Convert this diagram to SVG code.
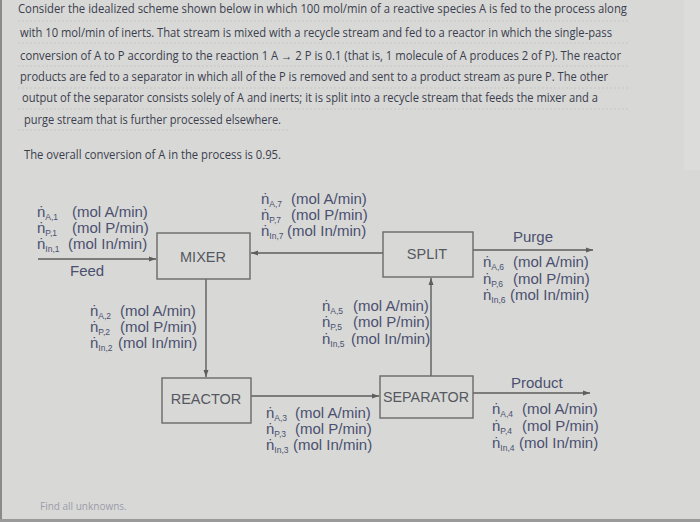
<svg xmlns="http://www.w3.org/2000/svg" width="700" height="522" viewBox="0 0 700 522">
<style>
.q{font-family:"Open Sans","Liberation Sans",sans-serif;font-size:12px;fill:#3a3e4e}
.rule{stroke:#c6c6c4;stroke-width:1;stroke-dasharray:2 2}
.lbl{font-family:"Liberation Sans",Arial,sans-serif;font-size:15px;fill:#4a5070}
.sub{font-size:8.5px}
.box{fill:none;stroke:#6a6a6a;stroke-width:1.4}
.bt{font-family:"Liberation Sans",Arial,sans-serif;font-size:14.5px;fill:#55585f;text-anchor:middle}
.ln{stroke:#5e5e5e;stroke-width:1.4;fill:none}
</style>
<defs>
<marker id="ah" markerWidth="8" markerHeight="6" refX="7" refY="3" orient="auto" markerUnits="userSpaceOnUse">
<path d="M0,0.5 L7,3 L0,5.5 Z" fill="#5e5e5e"/>
</marker>
</defs>
<rect width="700" height="522" fill="#d8d8d6"/>
<rect x="684" y="0" width="16" height="170" fill="#dcdcdb"/>
<rect x="0" y="0" width="2" height="522" fill="#8a8a8a"/>
<rect x="0" y="519" width="700" height="3" fill="#9a9a9a"/>

<g id="problem-text">
<line class="rule" x1="18" y1="21" x2="630" y2="21"/>
<line class="rule" x1="18" y1="43" x2="630" y2="43"/>
<line class="rule" x1="18" y1="66" x2="630" y2="66"/>
<line class="rule" x1="18" y1="88" x2="630" y2="88"/>
<line class="rule" x1="18" y1="109" x2="630" y2="109"/>
<line class="rule" x1="18" y1="130" x2="290" y2="130"/>
<text class="q" x="18" y="13" textLength="609" lengthAdjust="spacingAndGlyphs">Consider the idealized scheme shown below in which 100 mol/min of a reactive species A is fed to the process along</text>
<text class="q" x="20" y="37" textLength="592" lengthAdjust="spacingAndGlyphs">with 10 mol/min of inerts. That stream is mixed with a recycle stream and fed to a reactor in which the single-pass</text>
<text class="q" x="20" y="60" textLength="601" lengthAdjust="spacingAndGlyphs">conversion of A to P according to the reaction 1 A → 2 P is 0.1 (that is, 1 molecule of A produces 2 of P). The reactor</text>
<text class="q" x="20" y="81" textLength="588" lengthAdjust="spacingAndGlyphs">products are fed to a separator in which all of the P is removed and sent to a product stream as pure P. The other</text>
<text class="q" x="22" y="102" textLength="576" lengthAdjust="spacingAndGlyphs">output of the separator consists solely of A and inerts; it is split into a recycle stream that feeds the mixer and a</text>
<text class="q" x="24" y="124" textLength="257" lengthAdjust="spacingAndGlyphs">purge stream that is further processed elsewhere.</text>
<text class="q" x="24" y="159" textLength="257" lengthAdjust="spacingAndGlyphs">The overall conversion of A in the process is 0.95.</text>
</g>

<g id="connectors">
<line class="ln" x1="38" y1="259" x2="156" y2="259" marker-end="url(#ah)"/>
<line class="ln" x1="383" y1="253" x2="251" y2="253" marker-end="url(#ah)"/>
<line class="ln" x1="206" y1="279" x2="206" y2="377" marker-end="url(#ah)"/>
<line class="ln" x1="251" y1="396" x2="379" y2="396" marker-end="url(#ah)"/>
<line class="ln" x1="431" y1="376" x2="431" y2="278" marker-end="url(#ah)"/>
<line class="ln" x1="473" y1="250" x2="593" y2="250" marker-end="url(#ah)"/>
<line class="ln" x1="473" y1="393" x2="590" y2="393" marker-end="url(#ah)"/>
</g>

<g id="mixer">
<rect class="box" x="157" y="233" width="93" height="46"/>
<text class="bt" x="203" y="262">MIXER</text>
</g>
<g id="split">
<rect class="box" x="383" y="232" width="90" height="45"/>
<text class="bt" x="427" y="259">SPLIT</text>
</g>
<g id="reactor">
<rect class="box" x="162" y="378" width="89" height="45"/>
<text class="bt" x="206" y="404">REACTOR</text>
</g>
<g id="separator">
<rect class="box" x="380" y="376" width="93" height="42"/>
<text class="bt" x="426" y="402" textLength="86" lengthAdjust="spacingAndGlyphs">SEPARATOR</text>
</g>

<g id="stream1">
<text class="lbl" x="37" y="217">ṅ<tspan class="sub" dy="3">A,1</tspan><tspan x="72" dy="-3">(mol A/min)</tspan></text>
<text class="lbl" x="37" y="233">ṅ<tspan class="sub" dy="3">P,1</tspan><tspan x="72" dy="-3">(mol P/min)</tspan></text>
<text class="lbl" x="37" y="249">ṅ<tspan class="sub" dy="3">In,1</tspan><tspan x="68" dy="-3">(mol In/min)</tspan></text>
<text class="lbl" x="70" y="276">Feed</text>
</g>
<g id="stream7">
<text class="lbl" x="261" y="204">ṅ<tspan class="sub" dy="3">A,7</tspan><tspan x="291" dy="-3">(mol A/min)</tspan></text>
<text class="lbl" x="261" y="220">ṅ<tspan class="sub" dy="3">P,7</tspan><tspan x="291" dy="-3">(mol P/min)</tspan></text>
<text class="lbl" x="261" y="236">ṅ<tspan class="sub" dy="3">In,7</tspan><tspan x="287" dy="-3">(mol In/min)</tspan></text>
</g>
<g id="stream2">
<text class="lbl" x="90" y="316">ṅ<tspan class="sub" dy="3">A,2</tspan><tspan x="120" dy="-3">(mol A/min)</tspan></text>
<text class="lbl" x="90" y="332">ṅ<tspan class="sub" dy="3">P,2</tspan><tspan x="120" dy="-3">(mol P/min)</tspan></text>
<text class="lbl" x="90" y="348">ṅ<tspan class="sub" dy="3">In,2</tspan><tspan x="118" dy="-3">(mol In/min)</tspan></text>
</g>
<g id="stream5">
<text class="lbl" x="322" y="311">ṅ<tspan class="sub" dy="3">A,5</tspan><tspan x="353" dy="-3">(mol A/min)</tspan></text>
<text class="lbl" x="322" y="327">ṅ<tspan class="sub" dy="3">P,5</tspan><tspan x="353" dy="-3">(mol P/min)</tspan></text>
<text class="lbl" x="322" y="344">ṅ<tspan class="sub" dy="3">In,5</tspan><tspan x="351" dy="-3">(mol In/min)</tspan></text>
</g>
<g id="stream6">
<text class="lbl" x="513" y="242">Purge</text>
<text class="lbl" x="483" y="267">ṅ<tspan class="sub" dy="3">A,6</tspan><tspan x="513" dy="-3">(mol A/min)</tspan></text>
<text class="lbl" x="483" y="284">ṅ<tspan class="sub" dy="3">P,6</tspan><tspan x="513" dy="-3">(mol P/min)</tspan></text>
<text class="lbl" x="483" y="300">ṅ<tspan class="sub" dy="3">In,6</tspan><tspan x="510" dy="-3">(mol In/min)</tspan></text>
</g>
<g id="stream3">
<text class="lbl" x="266" y="418">ṅ<tspan class="sub" dy="3">A,3</tspan><tspan x="295" dy="-3">(mol A/min)</tspan></text>
<text class="lbl" x="266" y="434">ṅ<tspan class="sub" dy="3">P,3</tspan><tspan x="295" dy="-3">(mol P/min)</tspan></text>
<text class="lbl" x="266" y="450">ṅ<tspan class="sub" dy="3">In,3</tspan><tspan x="293" dy="-3">(mol In/min)</tspan></text>
</g>
<g id="stream4">
<text class="lbl" x="511" y="388">Product</text>
<text class="lbl" x="492" y="414">ṅ<tspan class="sub" dy="3">A,4</tspan><tspan x="522" dy="-3">(mol A/min)</tspan></text>
<text class="lbl" x="492" y="431">ṅ<tspan class="sub" dy="3">P,4</tspan><tspan x="522" dy="-3">(mol P/min)</tspan></text>
<text class="lbl" x="492" y="448">ṅ<tspan class="sub" dy="3">In,4</tspan><tspan x="519" dy="-3">(mol In/min)</tspan></text>
</g>

<text x="40" y="510" style="font-family:'Open Sans','Liberation Sans',sans-serif;font-size:10px;fill:#9c9cab">Find all unknowns.</text>
</svg>
